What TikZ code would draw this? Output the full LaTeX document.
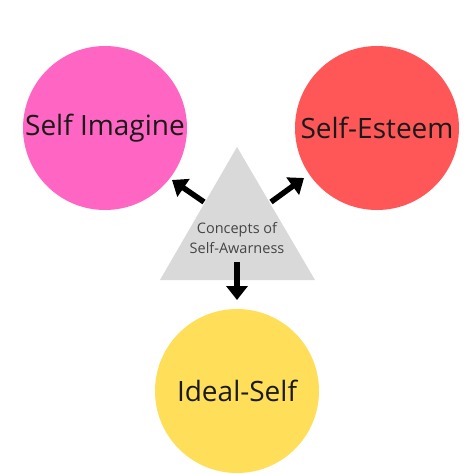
\documentclass[tikz,border=0pt]{standalone}
\usepackage{fontspec}
\setmainfont{Open Sans}
\usetikzlibrary{arrows.meta}
\definecolor{cpink}{HTML}{FF66C4}
\definecolor{cred}{HTML}{FF5757}
\definecolor{cyellow}{HTML}{FFDE59}
\definecolor{cgray}{HTML}{D9D9D9}
\definecolor{ctext}{HTML}{1A1A1A}
\definecolor{csmall}{HTML}{444444}
\tikzset{
  bubble/.style={circle, minimum size=164pt, inner sep=0pt, text=ctext,
    font=\fontsize{28}{32}\selectfont},
  conn/.style={line width=5.5pt, -{Triangle[width=21pt,length=14pt]}, black},
}
\begin{document}
\begin{tikzpicture}[x=1pt,y=-1pt]
\useasboundingbox (0,0) rectangle (474,474);
\fill[white] (0,0) rectangle (474,474);
\node[bubble, fill=cpink] (img) at (105,128) {Self Imagine};
\node[bubble, fill=cred] (est) at (377,128) {Self-Esteem};
\node[bubble, fill=cyellow] (ideal) at (237,391) {Ideal-Self};
\fill[cgray] (237,147) -- (315,280) -- (160,280) -- cycle;
\node[text=csmall, font=\fontsize{14.5}{20}\selectfont, align=center] (c) at (237,238) {Concepts of\\Self-Awarness};
\coordinate (l0) at (204,202);
\coordinate (l1) at (172,180);
\coordinate (r0) at (271,202);
\coordinate (r1) at (304,178);
\coordinate (d0) at (237,262);
\coordinate (d1) at (237,300);
\draw[conn] (l0) -- (l1);
\draw[conn] (r0) -- (r1);
\draw[conn] (d0) -- (d1);
\end{tikzpicture}
\end{document}
